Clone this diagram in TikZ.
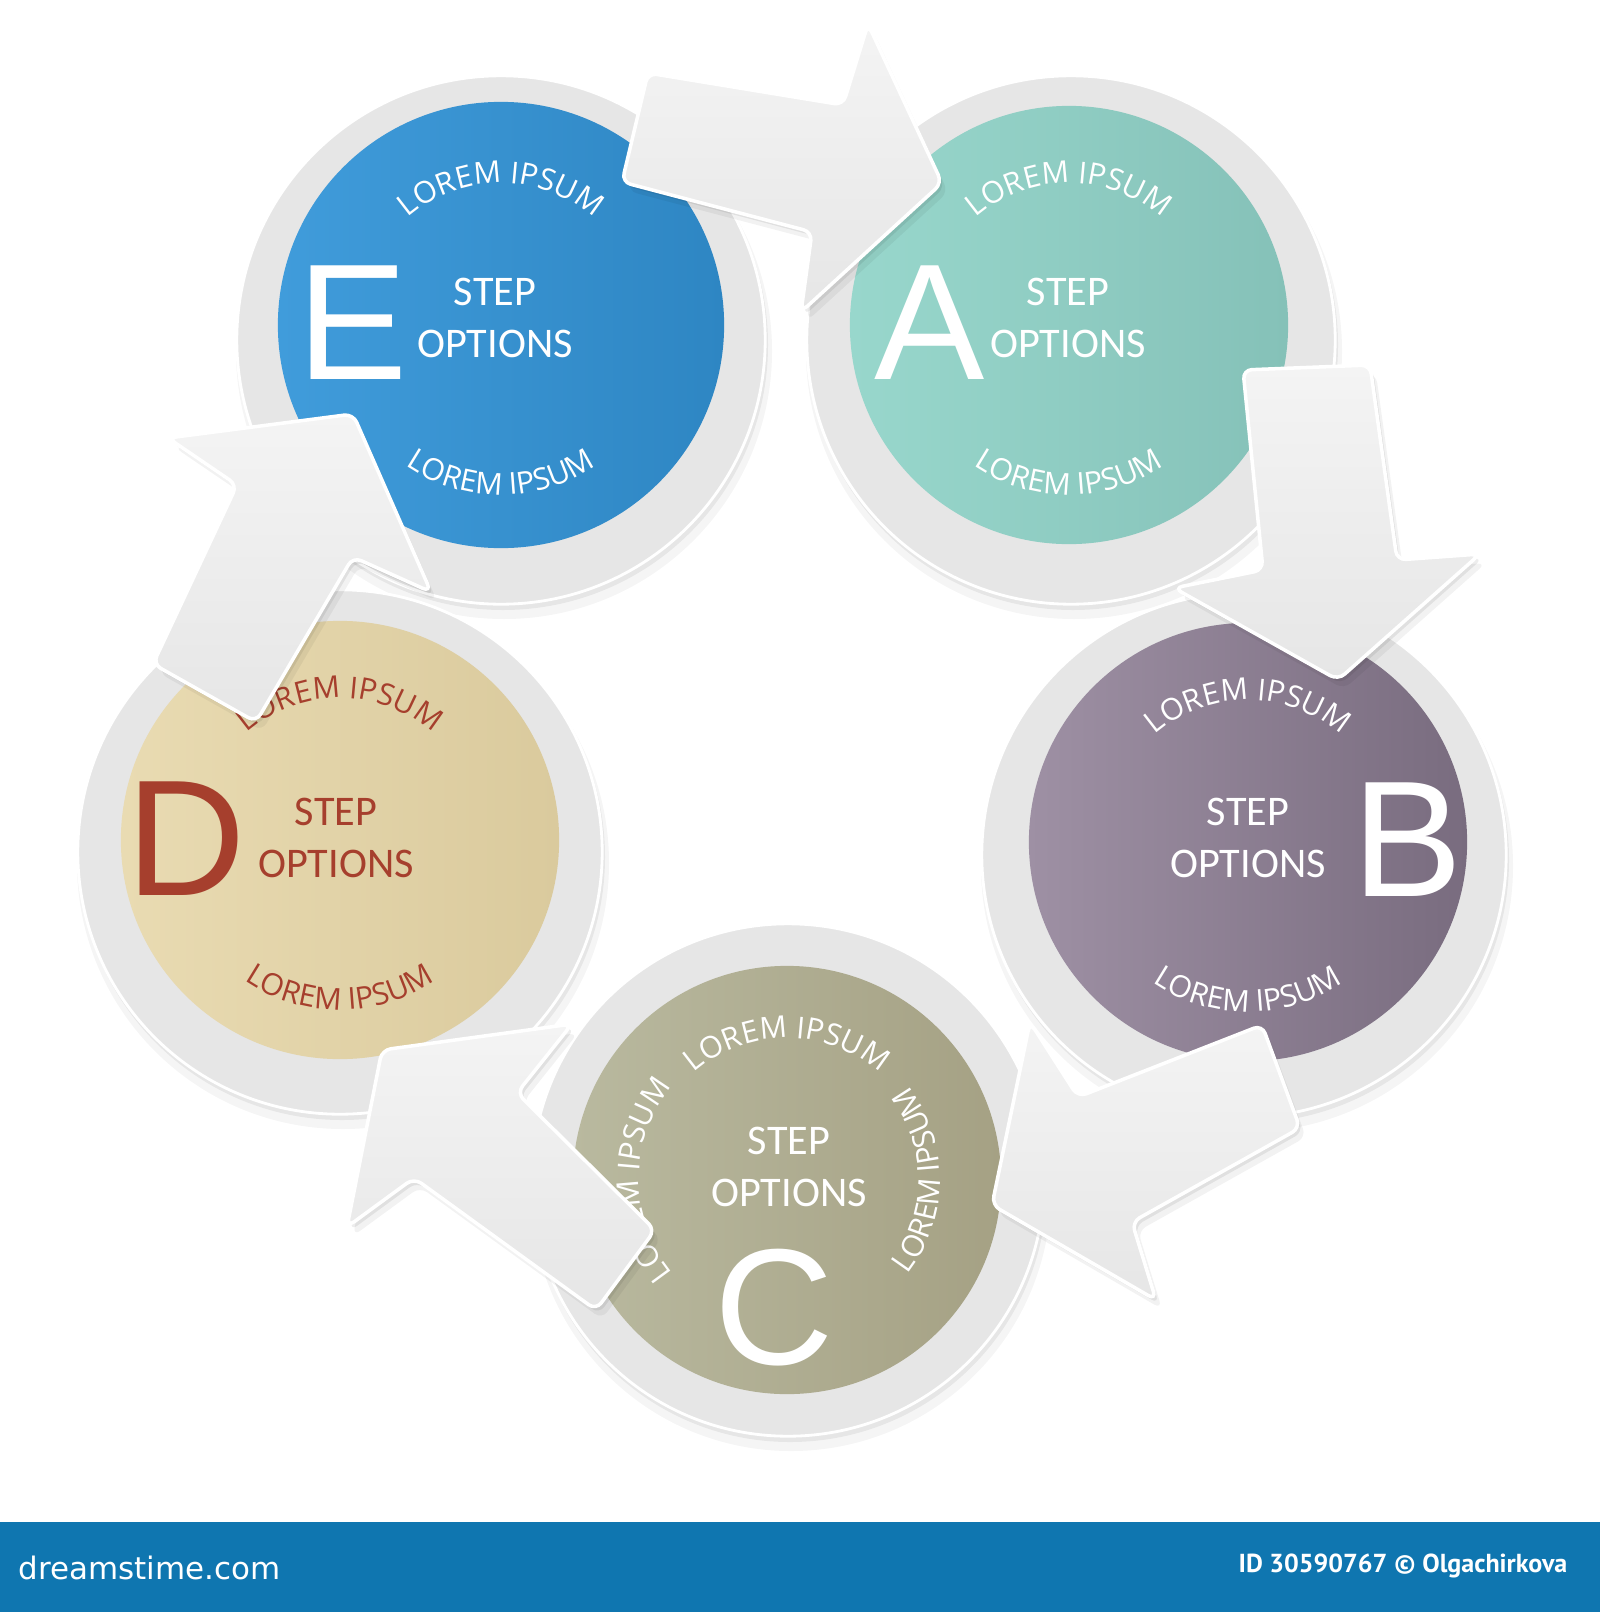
\documentclass[tikz,border=0pt]{standalone}
\usepackage{fontspec}
\setmainfont{Carlito}
\newfontfamily\loremfont{Open Sans}
\newfontfamily\creditfont{PT Sans}
\newfontfamily\logofont{DejaVu Sans}
\newfontfamily\letterfont{Liberation Sans}
\usetikzlibrary{decorations.text}
\definecolor{ringgray}{HTML}{E6E6E6}
\definecolor{arrowtop}{HTML}{F4F4F4}
\definecolor{arrowbot}{HTML}{E6E6E6}
\definecolor{eL}{HTML}{409CDB}
\definecolor{eR}{HTML}{2E86C3}
\definecolor{aL}{HTML}{98D7CC}
\definecolor{aR}{HTML}{85C1B8}
\definecolor{bL}{HTML}{9E90A4}
\definecolor{bR}{HTML}{796C7F}
\definecolor{cL}{HTML}{B9B99F}
\definecolor{cR}{HTML}{A5A184}
\definecolor{dL}{HTML}{E9DBB2}
\definecolor{dR}{HTML}{DACA9D}
\definecolor{dtext}{HTML}{A63F2D}
\definecolor{bannerblue}{HTML}{0F76B0}
\newcommand{\loremsize}{\loremfont\fontsize{8.6}{10}\selectfont}
\newcommand{\toplorem}[3]{\path[decorate,decoration={text along path,text align=center,text={|\loremsize\color{#3}|LOREM IPSUM}}] (#1) ++(145:#2) arc[start angle=145,end angle=35,radius=#2];}
\newcommand{\botlorem}[3]{\path[decorate,decoration={text along path,text align=center,text={|\loremsize\color{#3}|LOREM IPSUM}}] (#1) ++(215:#2) arc[start angle=215,end angle=325,radius=#2];}
\newcommand{\leftlorem}[3]{\path[decorate,decoration={text along path,text align=center,text={|\loremsize\color{#3}|LOREM IPSUM}}] (#1) ++(222:#2) arc[start angle=222,end angle=138,radius=#2];}
\newcommand{\rightlorem}[3]{\path[decorate,decoration={text along path,text align=center,text={|\loremsize\color{#3}|LOREM IPSUM}}] (#1) ++(-42:#2) arc[start angle=-42,end angle=42,radius=#2];}
% plate: name, x, y, radius (px)
\newcommand{\plate}[4]{%
  \fill[black,opacity=0.04] (#2+3,#3-11) circle[radius=#4+4];
  \fill[black,opacity=0.06] (#2+2,#3-5) circle[radius=#4+1];
  \node[plate,minimum size=#4*0.02cm] (#1) at (#2,#3) {};}
% block arrow with soft shadow
\newcommand{\blockarrow}[1]{%
  \path[fill=black,opacity=0.05,rounded corners=2.5pt,shift={(6,-9)}] #1;
  \path[fill=black,opacity=0.07,rounded corners=2.5pt,shift={(3,-4)}] #1;
  \path[arrowshape] #1;}
\begin{document}
\begin{tikzpicture}[x=0.01cm,y=0.01cm,
  plate/.style={circle,inner sep=0pt,fill=ringgray,draw=white,line width=0.8pt},
  disk/.style={circle,inner sep=0pt},
  bigletter/.style={font=\letterfont\fontsize{47}{47}\selectfont},
  steptext/.style={align=center,font=\fontsize{12}{14.8}\selectfont},
  arrowshape/.style={rounded corners=2.5pt,top color=arrowtop,bottom color=arrowbot,draw=white,line width=1pt}]
\fill[white] (0,0) rectangle (1600,-1612);
\useasboundingbox (0,0) rectangle (1600,-1612);
% plates
\plate{ringE}{501}{-340}{264}
\plate{ringA}{1071}{-340}{264}
\plate{ringB}{1244}{-855}{262}
\plate{ringC}{788}{-1180}{256}
\plate{ringD}{340}{-852}{262}
% disks
\node[disk,minimum size=4.46cm,left color=eL,right color=eR] (diskE) at (501,-325) {};
\node[disk,minimum size=4.38cm,left color=aL,right color=aR] (diskA) at (1069,-325) {};
\node[disk,minimum size=4.38cm,left color=bL,right color=bR] (diskB) at (1248,-842) {};
\node[disk,minimum size=4.28cm,left color=cL,right color=cR] (diskC) at (787,-1180) {};
\node[disk,minimum size=4.38cm,left color=dL,right color=dR] (diskD) at (340,-840) {};
% E
\node[bigletter,text=white] (letE) at (353,-323) {E};
\node[steptext,text=white] (txtE) at (495,-318) {STEP\\OPTIONS};
\toplorem{501,-325}{142}{white}
\botlorem{501,-325}{170}{white}
% A
\node[bigletter,text=white] (letA) at (930,-323) {A};
\node[steptext,text=white] (txtA) at (1068,-318) {STEP\\OPTIONS};
\toplorem{1069,-325}{142}{white}
\botlorem{1069,-325}{170}{white}
% B
\node[bigletter,text=white] (letB) at (1408,-840) {B};
\node[steptext,text=white] (txtB) at (1248,-838) {STEP\\OPTIONS};
\toplorem{1248,-842}{142}{white}
\botlorem{1248,-842}{170}{white}
% C
\node[bigletter,text=white] (letC) at (774,-1308) {C};
\node[steptext,text=white] (txtC) at (789,-1167) {STEP\\OPTIONS};
\toplorem{787,-1180}{142}{white}
\leftlorem{787,-1180}{148}{white}
\rightlorem{787,-1180}{153}{white}
% D
\node[bigletter,text=dtext] (letD) at (186,-839) {D};
\node[steptext,text=dtext] (txtD) at (336,-838) {STEP\\OPTIONS};
\toplorem{340,-840}{142}{dtext}
\botlorem{340,-840}{170}{dtext}
% arrows
\blockarrow{(648,-73) -- (843,-105) -- (868,-24) -- (942,-183) -- (801,-312) -- (812,-232) -- (622,-182) -- cycle}
\blockarrow{(1243,-370) -- (1370,-365) -- (1397,-560) -- (1480,-554) -- (1338,-680) -- (1174,-588) -- (1263,-570) -- cycle}
\blockarrow{(1262,-1025) -- (1300,-1128) -- (1132,-1222) -- (1156,-1300) -- (992,-1205) -- (1030,-1022) -- (1078,-1097) -- cycle}
\blockarrow{(382,-1050) -- (572,-1024) -- (517,-1093) -- (655,-1230) -- (596,-1310) -- (414,-1178) -- (347,-1227) -- cycle}
\blockarrow{(168,-438) -- (353,-414) -- (431,-592) -- (353,-557) -- (256,-722) -- (153,-664) -- (237,-485) -- cycle}
% banner
\fill[bannerblue] (0,-1522) rectangle (1600,-1612);
\node[anchor=west,inner sep=0pt,text=white,font=\logofont\fontsize{8.8}{10}\selectfont] (logo) at (18,-1568) {dreamstime.com};
\node[anchor=east,inner sep=0pt,text=white,font=\creditfont\bfseries\fontsize{7.4}{9}\selectfont] (credit) at (1568,-1566) {ID 30590767 © Olgachirkova};
\end{tikzpicture}
\end{document}
